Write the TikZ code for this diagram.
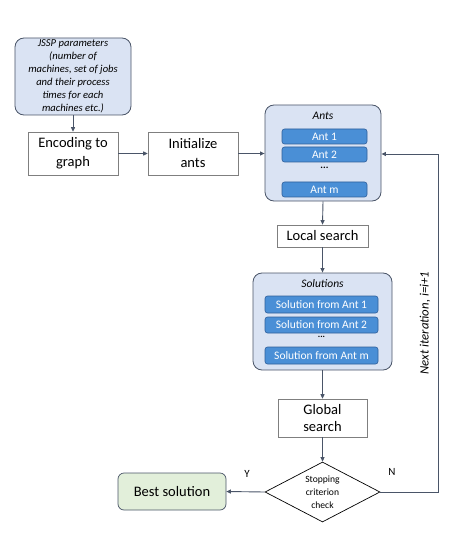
\documentclass[tikz,border=0pt]{standalone}
\usepackage{fontspec}
\setmainfont{Carlito}
\usetikzlibrary{shapes.geometric,arrows.meta}
\definecolor{linec}{HTML}{4A5568}
\definecolor{contfill}{HTML}{DAE3F3}
\definecolor{barfill}{HTML}{4A8FD6}
\definecolor{bardraw}{HTML}{2F5F9A}
\definecolor{greenfill}{HTML}{E2EFDA}
\definecolor{boxdraw}{HTML}{7F7F7F}
\tikzset{
  plainbox/.style={draw=boxdraw, line width=0.6bp, fill=white, align=center, inner sep=0pt, font=\fontsize{14.5bp}{19bp}\selectfont},
  contbox/.style={draw=linec, line width=0.8bp, fill=contfill, rounded corners=9bp, inner sep=0pt},
  bar/.style={draw=bardraw, line width=0.6bp, fill=barfill, rounded corners=2.5bp, inner sep=0pt, text=white, font=\fontsize{11.5bp}{12bp}\selectfont},
  conn/.style={draw=linec, line width=0.9bp, -{Triangle[length=4.5bp,width=4bp]}},
  title/.style={font=\fontsize{11.5bp}{12bp}\selectfont\itshape},
}
\begin{document}
\begin{tikzpicture}[x=1bp,y=-1bp]
\useasboundingbox (0,0) rectangle (474,557);
% JSSP parameters
\node[contbox, minimum width=116bp, minimum height=77bp, align=center, font=\fontsize{10.6bp}{12.9bp}\selectfont\itshape] (jssp) at (73,76.5)
 {JSSP parameters\\(number of\\machines, set of jobs\\and their process\\times for each\\machines etc.)};
\node[plainbox, minimum width=90bp, minimum height=43bp] (enc) at (73,153.5) {Encoding to\\graph};
\node[plainbox, minimum width=90bp, minimum height=43bp] (init) at (193,153.5) {Initialize\\ants};
% Ants container
\node[contbox, minimum width=116bp, minimum height=96bp] (ants) at (323,153) {};
\node[title] (antst) at (323,116) {Ants};
\node[bar, minimum width=85bp, minimum height=15bp] (a1) at (324.5,136.5) {Ant 1};
\node[bar, minimum width=85bp, minimum height=15bp] (a2) at (324.5,154.5) {Ant 2};
\node[font=\fontsize{10bp}{12bp}\selectfont] (adots) at (324.5,168) {\textbf{...}};
\node[bar, minimum width=85bp, minimum height=15bp] (am) at (324.5,189.5) {Ant m};
% Local search
\node[plainbox, minimum width=91bp, minimum height=22bp] (ls) at (322.5,236) {Local search};
% Solutions container
\node[contbox, minimum width=139bp, minimum height=97bp] (sol) at (322.5,321.5) {};
\node[title] (solt) at (322.5,284) {Solutions};
\node[bar, minimum width=113bp, minimum height=17bp] (s1) at (321.5,304.5) {Solution from Ant 1};
\node[bar, minimum width=113bp, minimum height=16bp] (s2) at (321.5,325) {Solution from Ant 2};
\node[font=\fontsize{9bp}{12bp}\selectfont] (sdots) at (321.5,337) {\textbf{...}};
\node[bar, minimum width=113bp, minimum height=17bp] (sm) at (321.5,355.5) {Solution from Ant m};
% Global search
\node[plainbox, minimum width=89bp, minimum height=38bp, font=\fontsize{14.5bp}{17bp}\selectfont] (gs) at (322.5,418) {Global\\search};
% Decision
\node[diamond, draw=black, line width=0.7bp, fill=white, aspect=1.9, minimum width=115bp, minimum height=60bp, inner sep=0pt, align=center, font=\fontsize{9.6bp}{13bp}\selectfont] (dec) at (322.5,492) {Stopping\\criterion\\check};
% Best solution
\node[draw=linec, line width=0.7bp, fill=greenfill, rounded corners=6bp, minimum width=108bp, minimum height=37bp, inner sep=0pt, font=\fontsize{14.5bp}{16bp}\selectfont] (best) at (172,491.5) {Best solution};
% connectors
\draw[conn] (jssp.south) -- (enc.north);
\draw[conn] (enc.east) -- (init.east -| init.west);
\draw[conn] (init.east) -- (init.east -| ants.west);
\draw[conn] (ants.south) -- (ls.north);
\draw[conn] (ls.south) -- (sol.north);
\draw[conn] (sol.south) -- (gs.north);
\draw[conn] (gs.south) -- (dec.north);
\draw[conn] (dec.west) -- (best.east);
\coordinate (rb) at (438,492);
\coordinate (rt) at (438,154);
\draw[conn] (dec.east) -- (rb) -- (rt) -- (rt -| ants.east);
% labels
\node[font=\fontsize{11bp}{12bp}\selectfont] (ylab) at (247,474) {Y};
\node[font=\fontsize{11bp}{12bp}\selectfont] (nlab) at (392,472) {N};
\node[rotate=90, font=\fontsize{12.8bp}{13bp}\selectfont\itshape] (nextit) at (425,323) {Next iteration, i=i+1};
\end{tikzpicture}
\end{document}
